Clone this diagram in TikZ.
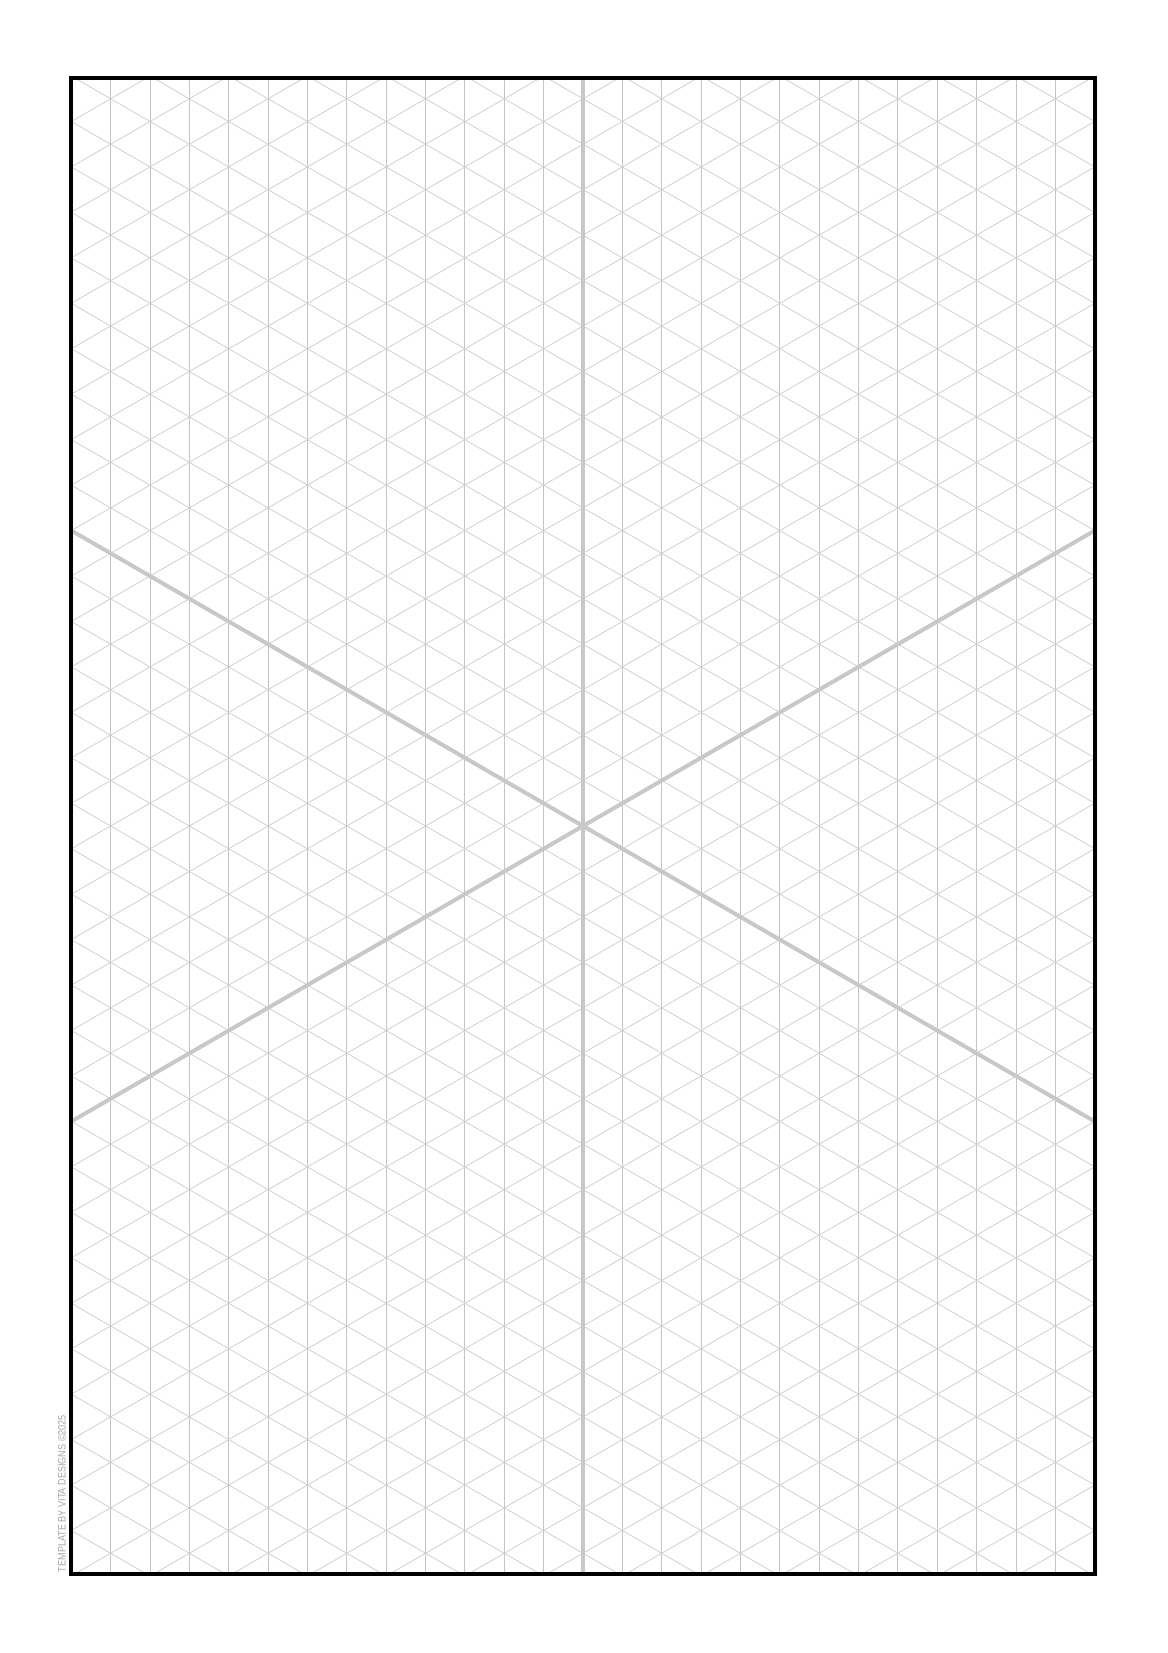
\documentclass[tikz,border=0pt]{standalone}
\usepackage{fontspec}
\setmainfont{Liberation Sans}
\usepackage{graphicx}
\definecolor{vgray}{RGB}{196,196,196}
\definecolor{dgray}{RGB}{208,208,208}
\definecolor{tgray}{RGB}{200,200,200}
\definecolor{txtgray}{RGB}{165,165,165}
\tikzset{
  vline/.style={draw=vgray, line width=0.9pt},
  dline/.style={draw=dgray, line width=0.8pt},
  axisline/.style={draw=tgray, line width=4pt},
  frameline/.style={draw=black, line width=4pt},
}
\begin{document}
\begin{tikzpicture}[x=1pt,y=-1pt]
\useasboundingbox (0,0) rectangle (1167,1653);
\def\cx{583}
\def\cy{826}
\def\s{39.362}
\def\h{45.452}
\def\dy{295.43}
\coordinate (tl) at (71.3,78);
\coordinate (br) at (1094.7,1574);
\coordinate (c) at (\cx,\cy);
\coordinate (ctop) at (\cx,78);
\coordinate (cbot) at (\cx,1574);
\coordinate (lup) at (71.3,{\cy-\dy});
\coordinate (ldn) at (71.3,{\cy+\dy});
\coordinate (rup) at (1094.7,{\cy-\dy});
\coordinate (rdn) at (1094.7,{\cy+\dy});
\begin{scope}
  \clip (tl) rectangle (br);
  \foreach \i in {-12,...,12}
    \draw[vline] ({\cx+\i*\s},78) -- ({\cx+\i*\s},1574);
  \foreach \j in {-23,...,23} {
    \draw[dline] (71.3,{\cy-\dy+\j*\h}) -- (1094.7,{\cy+\dy+\j*\h});
    \draw[dline] (71.3,{\cy+\dy+\j*\h}) -- (1094.7,{\cy-\dy+\j*\h});
  }
  \draw[axisline] (ctop) -- (cbot);
  \draw[axisline] (lup) -- (rdn);
  \draw[axisline] (ldn) -- (rup);
\end{scope}
\draw[frameline] (tl) rectangle (br);
\node[rotate=90, inner sep=0pt, text=txtgray] (credit) at (62,1493.5)
  {\resizebox{157pt}{7.5pt}{TEMPLATE BY VITA DESIGNS ©2025}};
\end{tikzpicture}
\end{document}
